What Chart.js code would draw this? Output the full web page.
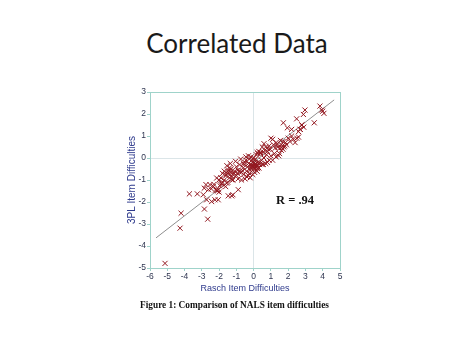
<!DOCTYPE html>
<html><head><meta charset="utf-8">
<script src="https://cdn.jsdelivr.net/npm/chart.js@4/dist/chart.umd.min.js"></script>
<style>
html,body{margin:0;padding:0;background:#fff;width:474px;height:355px;overflow:hidden;position:relative}
#title{position:absolute;left:0;width:474px;top:30px;text-align:center;font-family:Lato,"Open Sans",sans-serif;font-size:26px;line-height:26px;color:#1a1a1a}
#caption{position:absolute;left:0;width:469px;top:301px;text-align:center;font-family:"Liberation Serif",serif;font-weight:bold;font-size:9.3px;line-height:9.3px;color:#111}
canvas{position:absolute;left:0;top:0}
</style></head><body>
<div id="title">Correlated Data</div>
<canvas id="c" width="474" height="355"></canvas>
<div id="caption">Figure 1: Comparison of NALS item difficulties</div>
<script>
// Rasch item difficulties (x) and 3PL item difficulties (y)
const raschX = [
 -5.13,-4.26,-4.20,-3.72,-3.26,-2.85,-2.66,-2.91,-2.72,-2.86,-2.76,-2.53,-2.43,-2.24,-2.05,-2.14,-2.04,-2.16,-1.95,-1.47,
 -1.27,-1.20,-0.89,-1.56,-1.85,-2.62,-2.33,-1.60,-1.37,-1.27,
 -1.60,-1.50,-1.40,-1.30,-1.20,-1.10,-1.00,-1.00,-0.90,-0.80,-0.70,-0.60,-0.50,-0.40,-1.40,-1.70,-1.80,-1.50,-1.20,-0.90,
 -0.70,-1.35,-1.05,-0.75,-0.45,-0.60,-1.55,-1.25,-1.62,-1.90,-2.00,-2.20,-2.10,-1.90,-1.80,-1.70,-1.50,-2.30,
 -0.20,-0.10,0.00,0.05,0.10,-0.05,0.15,0.20,-0.15,0.00,0.10,-0.10,0.05,-0.30,0.25,0.30,-0.25,0.00,0.10,-0.20,
 0.20,-0.35,0.35,0.05,-0.05,-0.30,-0.20,-0.40,-0.50,-0.25,-0.60,-0.45,-0.30,-0.15,0.15,0.25,0.40,0.56,0.27,-0.55,
 0.60,0.70,0.80,1.00,1.10,1.30,1.40,1.50,1.60,1.70,1.80,1.20,1.00,0.90,0.70,0.50,0.40,0.30,0.50,0.60,
 0.80,1.10,1.30,1.50,1.60,1.70,1.90,0.20,0.45,0.65,1.25,1.45,0.90,0.35,1.15,1.75,1.85,1.55,0.95,0.75,
 2.10,2.30,2.50,2.60,2.70,2.80,2.40,2.20,2.90,2.60,2.00,2.69,2.78,
 2.97,2.88,2.49,1.72,3.51,3.84,4.00,4.07,3.94,2.20,1.95,
 -0.08,0.08,0.12,-0.02,0.18,-0.12,0.03,0.22,-1.15,-1.30,-0.95,-0.85,-1.45,-0.65,1.35,1.62,0.85,0.55,-2.45,-2.00
];
const threePLY = [
 -4.79,-3.19,-2.51,-1.63,-1.63,-2.32,-2.78,-1.67,-1.90,-1.37,-1.21,-1.21,-1.98,-1.90,-1.90,-0.91,-1.44,-1.47,-1.26,-1.72,
 -1.72,-1.67,-1.44,-1.14,-1.17,-1.44,-1.29,-0.76,-0.76,-0.99,
 -0.80,-0.60,-0.90,-0.50,-0.75,-0.60,-0.80,-0.40,-0.55,-0.30,-0.65,-0.45,-0.20,-0.60,-0.45,-1.00,-1.10,-1.10,-1.00,-0.95,
 -1.00,-0.25,-0.15,-0.05,-0.10,-0.25,-0.35,-0.85,-1.30,-1.20,-1.00,-1.45,-1.50,-0.90,-0.70,-0.60,-0.70,-1.20,
 -0.30,-0.35,-0.40,-0.30,-0.25,-0.20,-0.40,-0.35,-0.45,-0.50,-0.50,-0.10,-0.10,-0.25,-0.20,-0.45,-0.05,0.00,-0.05,-0.55,
 -0.60,-0.40,-0.30,-0.65,-0.75,-0.80,-0.90,-0.85,-0.95,-0.70,-0.75,0.05,0.10,0.05,0.15,0.20,0.25,-0.29,-0.44,-0.30,
 0.65,0.50,0.30,0.90,0.85,0.70,0.50,0.45,0.60,0.40,0.55,0.20,0.10,-0.10,-0.25,-0.30,0.20,0.30,0.50,0.00,
 -0.20,-0.10,0.05,0.20,0.35,0.75,0.60,0.25,-0.10,0.35,0.45,0.10,0.55,-0.20,0.60,0.50,0.70,0.80,0.40,0.15,
 0.75,0.85,0.90,1.20,1.30,1.50,0.70,1.00,1.40,0.95,0.90,1.30,1.50,
 2.18,1.98,1.78,1.60,1.60,2.36,2.13,2.03,2.18,1.30,1.37,
 -0.32,-0.38,-0.28,-0.42,-0.32,-0.36,-0.22,-0.48,-0.68,-0.62,-0.70,-0.62,-0.55,-0.58,0.62,0.48,0.40,0.25,-1.40,-1.55
];
// fitted line end points
const fitX = [-5.65, 4.66];
const fitY = [-3.63, 2.64];
const xTicks = [-6,-5,-4,-3,-2,-1,0,1,2,3,4,5];
const yTicks = [-5,-4,-3,-2,-1,0,1,2,3];
const rLabel = "R = .94";
const rPos = [2.4, -1.96];

const pts = raschX.map((x,i)=>({x:x, y:threePLY[i]}));
const linePts = fitX.map((x,i)=>({x:x, y:fitY[i]}));
const frameColor = '#9fd3ca';
const zeroColor = '#dbe5e8';
const tickFont = {family:'"Liberation Sans", Arial, sans-serif', size:8.5};

const framePlugin = {
  id:'frame',
  afterDatasetsDraw(chart){
    const {ctx, chartArea:a, scales} = chart;
    ctx.save();
    ctx.strokeStyle = frameColor; ctx.lineWidth = 1;
    ctx.beginPath();
    ctx.moveTo(a.left, Math.round(a.top)+0.5); ctx.lineTo(a.right, Math.round(a.top)+0.5);
    ctx.moveTo(Math.round(a.right)+0.5, a.top); ctx.lineTo(Math.round(a.right)+0.5, a.bottom);
    ctx.stroke();
    ctx.fillStyle = '#111';
    ctx.font = 'bold 12.5px "Liberation Serif", serif';
    ctx.textAlign = 'center'; ctx.textBaseline = 'middle';
    ctx.fillText(rLabel, scales.x.getPixelForValue(rPos[0]), scales.y.getPixelForValue(rPos[1]));
    ctx.restore();
  }
};

new Chart(document.getElementById('c'), {
  type:'scatter',
  data:{datasets:[
    {type:'line', data:linePts, borderColor:'#8e8e8e', borderWidth:1, pointRadius:0, fill:false, order:2},
    {data:pts, pointStyle:'crossRot', pointRadius:3.6, borderColor:'#931820', backgroundColor:'#931820', pointBorderWidth:1, borderWidth:1, order:1}
  ]},
  options:{
    responsive:false, animation:false, devicePixelRatio:1,
    layout:{padding:{left:100, right:134, top:92, bottom:57}},
    plugins:{legend:{display:false}, tooltip:{enabled:false}},
    scales:{
      x:{type:'linear', min:-6, max:5,
        afterBuildTicks(s){ s.ticks = xTicks.map(v=>({value:v})); },
        afterFit(s){ s.height = 30; },
        grid:{color:c=>(c.tick && c.tick.value===0)?zeroColor:'rgba(0,0,0,0)', tickColor:frameColor, tickLength:3, drawTicks:true},
        border:{color:frameColor, width:1},
        ticks:{font:tickFont, color:'#2f3550', padding:1, maxRotation:0, autoSkip:false},
        title:{display:true, text:'Rasch Item Difficulties', color:'#2e3a8c', font:{family:'"Liberation Sans", Arial, sans-serif', size:9}, padding:{top:0,bottom:4}}
      },
      y:{type:'linear', min:-5, max:3,
        afterBuildTicks(s){ s.ticks = yTicks.map(v=>({value:v})); },
        afterFit(s){ s.width = 50; },
        grid:{color:c=>(c.tick && c.tick.value===0)?zeroColor:'rgba(0,0,0,0)', tickColor:frameColor, tickLength:3, drawTicks:true},
        border:{color:frameColor, width:1},
        ticks:{font:tickFont, color:'#2f3550', padding:1, autoSkip:false},
        title:{display:true, text:'3PL Item Difficulties', color:'#2e3a8c', font:{family:'"Liberation Sans", Arial, sans-serif', size:10}, padding:{top:26,bottom:0}}
      }
    }
  },
  plugins:[framePlugin]
});
</script>
</body></html>
